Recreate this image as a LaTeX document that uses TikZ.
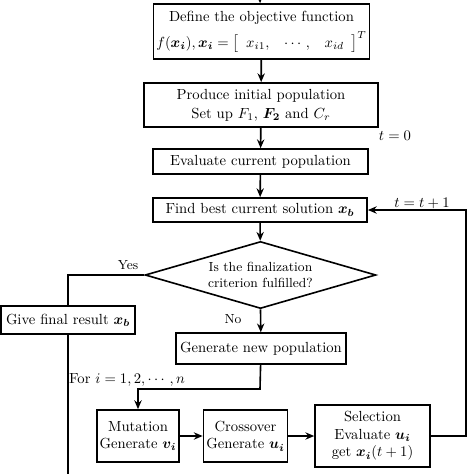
\documentclass[tikz,border=0pt]{standalone}
\usepackage{amsmath,bm}
\usetikzlibrary{shapes.geometric,arrows.meta}
\begin{document}
\begin{tikzpicture}[x=0.024cm,y=-0.024cm,>={Stealth[length=6pt,width=5pt]},line width=1.1pt,
  block/.style={draw,align=center,inner sep=2pt},
  decision/.style={draw,diamond,aspect=3.45,inner sep=0pt,minimum width=5.54cm,minimum height=1.61cm,align=center,font=\small},
  lbl/.style={font=\small}]
  \useasboundingbox (0,0) rectangle (474,474);
  \coordinate (start) at (260,0);
  \node[block,minimum width=5.16cm,minimum height=1.32cm] (def) at (261.5,31.5) {Define the objective function\\[4pt]
    $f(\bm{x_i}),\bm{x_i}=\left[\begin{array}{ccc} x_{i1}, & \cdots, & x_{id}\end{array}\right]^T$};
  \node[block,minimum width=5.62cm,minimum height=1.06cm] (prod) at (261,105) {Produce initial population\\[1pt] Set up $F_1$, $\bm{F_2}$ and $C_r$};
  \node[block,minimum width=5.16cm,minimum height=.6cm] (eval) at (260.5,161.5) {Evaluate current population};
  \node[block,minimum width=5.14cm,minimum height=.58cm] (find) at (260,210) {Find best current solution $\bm{x_b}$};
  \node[decision] (crit) at (260.5,275) {Is the finalization\\ criterion fulfilled?};
  \node[block,minimum width=3.22cm,minimum height=.67cm] (final) at (68,320) {Give final result $\bm{x_b}$};
  \coordinate (end) at (68,474);
  \node[block,minimum width=4.08cm,minimum height=.74cm] (gen) at (261,348.5) {Generate new population};
  \coordinate (fork) at (260,389);
  \node[block,minimum width=1.92cm,minimum height=1.25cm] (mut) at (138,436) {Mutation\\ Generate $\bm{v_i}$};
  \node[block,minimum width=1.94cm,minimum height=1.25cm] (cross) at (245.5,436) {Crossover\\ Generate $\bm{u_i}$};
  \node[block,minimum width=2.76cm,minimum height=1.49cm] (sel) at (372.5,436) {Selection\\ Evaluate $\bm{u_i}$\\ get $\bm{x_i}(t+1)$};
  \coordinate (back) at (466,436);
  % labels
  \node (t0) at (395,136) {$t=0$};
  \node (t1) at (422,203) {$t=t+1$};
  \node[lbl] (yes) at (128,265) {Yes};
  \node[lbl] (no) at (233,319) {No};
  \node (for) at (127,380) {For $i=1,2,\cdots,n$};
  % connectors
  \draw[->] (start)--(def);
  \draw[->] (def)--(prod);
  \draw[->] (prod)--(eval);
  \draw[->] (eval)--(find);
  \draw[->] (find)--(crit);
  \draw (crit.west) -| (final.north);
  \draw (final)--(end);
  \draw[->] (crit.south)--(gen);
  \draw[->] (gen)--(fork) -| (mut);
  \draw[->] (mut)--(cross);
  \draw[->] (cross)--(sel);
  \draw[->] (sel)--(back) |- (find);
\end{tikzpicture}
\end{document}
